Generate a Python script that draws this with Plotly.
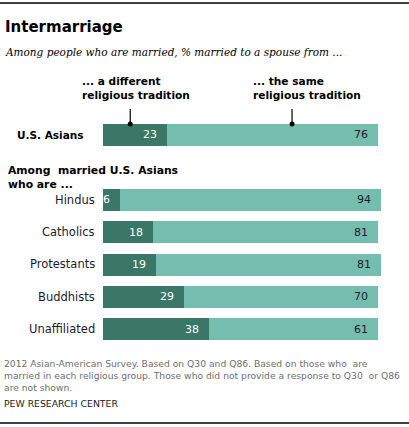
import plotly.graph_objects as go

categories = ["U.S. Asians", "Hindus", "Catholics", "Protestants", "Buddhists", "Unaffiliated"]
row_pos = [0, 2, 3, 4, 5, 6]
different = [23, 6, 18, 19, 29, 38]
same = [76, 94, 81, 81, 70, 61]

title = "Intermarriage"
subtitle = "Among people who are married, % married to a spouse from ..."
header_diff = "... a different<br>religious tradition"
header_same = "... the same<br>religious tradition"
group_label = "Among  married U.S. Asians<br>who are ..."
footer_lines = [
    "2012 Asian-American Survey. Based on Q30 and Q86. Based on those who  are",
    "married in each religious group. Those who did not provide a response to Q30  or Q86",
    "are not shown.",
]
source = "PEW RESEARCH CENTER"

DARK = "#3a7766"
LIGHT = "#75bdae"
TXT = "#1b1b2f"

W, H = 409, 427


def px(x):
    return x / W


def py(y):
    return 1 - y / H


fig = go.Figure()
fig.add_trace(go.Bar(y=row_pos, x=different, orientation="h", marker=dict(color=DARK, line=dict(width=0)),
                     width=0.68, hoverinfo="skip", showlegend=False))
fig.add_trace(go.Bar(y=row_pos, x=same, orientation="h", marker=dict(color=LIGHT, line=dict(width=0)),
                     width=0.68, hoverinfo="skip", showlegend=False))

ann = []
# value labels
for r, d, s in zip(row_pos, different, same):
    ann.append(dict(x=d, y=r, xref="x", yref="y", text=str(d), showarrow=False, xanchor="right",
                    xshift=-8, font=dict(family="DejaVu Sans", size=11, color="white")))
    ann.append(dict(x=d + s, y=r, xref="x", yref="y", text=str(s), showarrow=False, xanchor="right",
                    xshift=-8, font=dict(family="DejaVu Sans", size=11, color=TXT)))
# category labels
for i, (r, c) in enumerate(zip(row_pos, categories)):
    if i == 0:
        ann.append(dict(x=px(15), y=r, xref="paper", yref="y", text="<b>" + c + "</b>", showarrow=False,
                        xanchor="left", font=dict(family="DejaVu Sans", size=10.5, color="black")))
    else:
        ann.append(dict(x=px(97), y=r, xref="paper", yref="y", text=c, showarrow=False,
                        xanchor="right", font=dict(family="DejaVu Sans", size=11.5, color=TXT)))

ann += [
    dict(x=px(3), y=py(27), xref="paper", yref="paper", text="<b>" + title + "</b>", showarrow=False,
         xanchor="left", yanchor="middle", font=dict(family="DejaVu Sans", size=15, color="black")),
    dict(x=px(3), y=py(52), xref="paper", yref="paper", text="<i>" + subtitle + "</i>", showarrow=False,
         xanchor="left", yanchor="middle", font=dict(family="DejaVu Serif", size=10.5, color="black")),
    dict(x=px(80), y=py(87.5), xref="paper", yref="paper", text="<b>" + header_diff + "</b>", showarrow=False,
         xanchor="left", yanchor="middle", align="left", font=dict(family="DejaVu Sans", size=10.6, color="black")),
    dict(x=px(251), y=py(87.5), xref="paper", yref="paper", text="<b>" + header_same + "</b>", showarrow=False,
         xanchor="left", yanchor="middle", align="left", font=dict(family="DejaVu Sans", size=10.6, color="black")),
    dict(x=px(6), y=py(177), xref="paper", yref="paper", text="<b>" + group_label + "</b>", showarrow=False,
         xanchor="left", yanchor="middle", align="left", font=dict(family="DejaVu Sans", size=10.8, color="black")),
    dict(x=px(2), y=py(403), xref="paper", yref="paper", text=source, showarrow=False,
         xanchor="left", yanchor="middle", font=dict(family="DejaVu Sans", size=9.3, color="#222222")),
]
for i, line in enumerate(footer_lines):
    ann.append(dict(x=px(2), y=py(363 + 12 * i), xref="paper", yref="paper", text=line, showarrow=False,
                    xanchor="left", yanchor="middle", font=dict(family="DejaVu Sans", size=9.2, color="#6e6e6e")))

# pointers from headers to the first bar
pointer_x = [9.8, 68]
shapes = [
    dict(type="line", xref="paper", yref="paper", x0=0, x1=1, y0=py(3), y1=py(3), line=dict(color="black", width=1.5)),
    dict(type="line", xref="paper", yref="paper", x0=0, x1=1, y0=py(423), y1=py(423), line=dict(color="black", width=1.5)),
]
for xp in pointer_x:
    shapes.append(dict(type="line", xref="x", yref="paper", x0=xp, x1=xp, y0=py(109), y1=py(124),
                       line=dict(color="black", width=1.2)))
fig.add_trace(go.Scatter(x=pointer_x, y=[-0.34, -0.34], mode="markers",
                         marker=dict(color="black", size=5), hoverinfo="skip", showlegend=False))

fig.update_layout(
    width=W, height=H, barmode="stack", bargap=0,
    margin=dict(l=0, r=0, t=0, b=0),
    paper_bgcolor="white", plot_bgcolor="white",
    xaxis=dict(range=[0, 100], domain=[px(103), px(381)], visible=False, fixedrange=True),
    yaxis=dict(range=[6.5, -0.5], domain=[py(345.2), py(118.8)], visible=False, fixedrange=True),
    annotations=ann, shapes=shapes,
)
fig.write_html("out.html", config={"displayModeBar": False},
               post_script="document.body.style.margin='0';document.body.style.overflow='hidden';")
